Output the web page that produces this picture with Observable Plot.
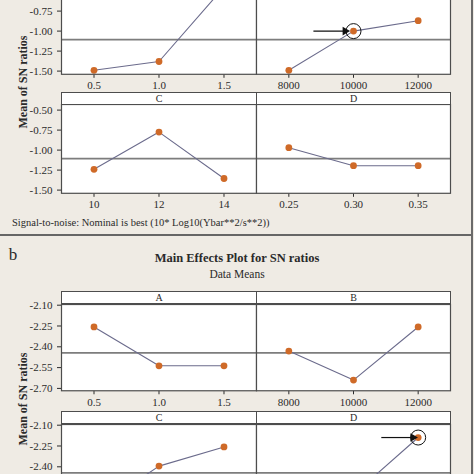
<!DOCTYPE html>
<html><head><meta charset="utf-8">
<script src="https://cdn.jsdelivr.net/npm/d3@7"></script>
<script src="https://cdn.jsdelivr.net/npm/@observablehq/plot@0.6"></script>
<style>
body{margin:0;background:#efebe4;}
#root{position:relative;width:474px;height:474px;overflow:hidden;background:#efebe4;font-family:"Liberation Serif","DejaVu Serif",serif;color:#2a2a2a;}
.strip{position:absolute;box-sizing:border-box;border:1.2px solid #4d4d4d;background:#fff;font-size:10px;text-align:center;}
.txt{position:absolute;white-space:nowrap;transform:translate(-50%,-50%);}
.ylab{position:absolute;white-space:nowrap;font-weight:bold;font-size:12px;transform:translate(-50%,-50%) rotate(-90deg);}
</style>
</head><body>
<div id="root"></div>
<script>
// ---- data ----
const levelsA = ["0.5", "1.0", "1.5"];
const levelsB = ["8000", "10000", "12000"];
const levelsC = ["10", "12", "14"];
const levelsD = ["0.25", "0.30", "0.35"];

// panel a (SN ratios, upper figure, cropped at the top)
const aA = [-1.49, -1.38, -0.45];
const aB = [-1.49, -1.00, -0.87];
const aC = [-1.24, -0.775, -1.355];
const aD = [-0.97, -1.195, -1.195];
const aTicksTop = [-1.50, -1.25, -1.00, -0.75];
const aTicks = [-1.50, -1.25, -1.00, -0.75, -0.50];

// panel b (cropped at the bottom)
const bA = [-2.257, -2.537, -2.537];
const bB = [-2.431, -2.640, -2.257];
const bC = [-2.710, -2.395, -2.257];
const bD = [-2.530, -2.600, -2.189];
const bTicks = [-2.70, -2.55, -2.40, -2.25, -2.10];
const bTicksBottom = [-2.40, -2.25, -2.10];

const caption = "Signal-to-noise: Nominal is best (10* Log10(Ybar**2/s**2))";
const titleB = "Main Effects Plot for SN ratios";
const subtitleB = "Data Means";
const yLabel = "Mean of SN ratios";

// annotations: highlighted level index per panel, arrow start/end (in level-index units)
const annotA_B = {idx: 1, from: 0.38, to: 0.87};
const annotB_D = {idx: 2, from: 1.43, to: 1.92};

// ---- drawing ----
const root = document.getElementById("root");
const frameColor = "#4d4d4d";

function panel({levels, values, mean, domain, ticks, col, plotTop, pxPerUnit, letter, annot, xAxis = true, strip = true}) {
  const plotH = (domain[1] - domain[0]) * pxPerUnit;
  const mT = 1, mB = 24;
  const left = col === 0;
  const data = values.map((v, i) => ({i, v}));
  const marks = [
    Plot.frame({fill: "white", stroke: "none"}),
    Plot.ruleY([mean], {stroke: "#7d7d7d", strokeWidth: 1.6}),
    Plot.line(data, {x: "i", y: "v", stroke: "#6b6b8c", strokeWidth: 1.1}),
    Plot.dot(data, {x: "i", y: "v", r: 3.4, fill: "#cf6a28", stroke: "none"})
  ];
  if (annot) {
    const p = [{i: annot.idx, v: values[annot.idx]}];
    const ar = [{x1: annot.from, x2: annot.to, y: values[annot.idx]}];
    marks.push(Plot.dot(p, {x: "i", y: "v", r: 7.5, fill: "none", stroke: "#111", strokeWidth: 1}));
    marks.push(Plot.link(ar, {x1: "x1", x2: "x2", y1: "y", y2: "y", stroke: "#111", strokeWidth: 1.2}));
    marks.push(Plot.dot(ar, {x: "x2", y: "y", symbol: "triangle", r: 3.2, rotate: 90, fill: "#111", stroke: "none"}));
  }
  marks.push(Plot.frame({stroke: frameColor, strokeWidth: 1.2}));
  const svg = Plot.plot({
    width: left ? 256 : 195,
    height: mT + plotH + mB,
    marginTop: mT, marginBottom: mB,
    marginLeft: left ? 61 : 0,
    marginRight: left ? 0 : 1,
    style: {background: "transparent", fontFamily: '"Liberation Serif","DejaVu Serif",serif', fontSize: "11px", color: "#2a2a2a", overflow: "visible"},
    x: xAxis ? {domain: [-0.5, 2.5], ticks: [0, 1, 2], tickFormat: i => levels[i], tickSize: 4, tickPadding: 3, label: null}
             : {domain: [-0.5, 2.5], axis: null},
    y: left ? {domain, ticks, tickFormat: d => d.toFixed(2), tickSize: 4, tickPadding: 5, label: null}
            : {domain, axis: null},
    marks
  });
  svg.style.position = "absolute";
  svg.style.left = (left ? 0 : 256) + "px";
  svg.style.top = (plotTop - mT) + "px";
  root.appendChild(svg);
  if (strip) {
    const s = document.createElement("div");
    s.className = "strip";
    s.textContent = letter;
    const sh = 13;
    s.style.left = (left ? 61 : 256) + "px";
    s.style.width = (left ? 196 : 195) + "px";
    s.style.top = (plotTop - sh + 0.6) + "px";
    s.style.height = sh + "px";
    s.style.lineHeight = (sh - 2) + "px";
    root.appendChild(s);
  }
}

// block a (top row's strips lie above the cropped picture)
const meanA = d3.mean(aA);
const domA = [-1.54, -0.43], pxA = 80;
const aRows = [-14.8, 104];
panel({levels: levelsA, values: aA, mean: meanA, domain: domA, ticks: aTicksTop, col: 0, plotTop: aRows[0], pxPerUnit: pxA, letter: "A", strip: false});
panel({levels: levelsB, values: aB, mean: meanA, domain: domA, ticks: aTicksTop, col: 1, plotTop: aRows[0], pxPerUnit: pxA, letter: "B", strip: false, annot: annotA_B});
panel({levels: levelsC, values: aC, mean: meanA, domain: domA, ticks: aTicks, col: 0, plotTop: aRows[1], pxPerUnit: pxA, letter: "C"});
panel({levels: levelsD, values: aD, mean: meanA, domain: domA, ticks: aTicks, col: 1, plotTop: aRows[1], pxPerUnit: pxA, letter: "D"});

// block b (bottom row's x axis lies below the cropped picture)
const meanB = d3.mean(bA);
const domB = [-2.717, -2.095], pxB = 138.7;
const bRows = [303.7, 423.7];
panel({levels: levelsA, values: bA, mean: meanB, domain: domB, ticks: bTicks, col: 0, plotTop: bRows[0], pxPerUnit: pxB, letter: "A"});
panel({levels: levelsB, values: bB, mean: meanB, domain: domB, ticks: bTicks, col: 1, plotTop: bRows[0], pxPerUnit: pxB, letter: "B"});
panel({levels: levelsC, values: bC, mean: meanB, domain: domB, ticks: bTicksBottom, col: 0, plotTop: bRows[1], pxPerUnit: pxB, letter: "C", xAxis: false});
panel({levels: levelsD, values: bD, mean: meanB, domain: domB, ticks: bTicksBottom, col: 1, plotTop: bRows[1], pxPerUnit: pxB, letter: "D", xAxis: false, annot: annotB_D});

// texts and decorations
function addText(text, x, y, css, cls = "txt") {
  const d = document.createElement("div");
  d.className = cls;
  d.textContent = text;
  d.style.left = x + "px";
  d.style.top = y + "px";
  Object.assign(d.style, css || {});
  root.appendChild(d);
  return d;
}
addText(yLabel, 23, 82, {}, "ylab");
addText(yLabel, 23, 399, {}, "ylab");
addText(caption, 12, 222, {fontSize: "10.5px", transform: "translate(0,-50%)"});
addText("b", 13, 255, {fontSize: "17px"});
addText(titleB, 237, 258, {fontSize: "12.5px", fontWeight: "bold"});
addText(subtitleB, 237, 274, {fontSize: "11.5px"});

const sep = document.createElement("div");
Object.assign(sep.style, {position: "absolute", left: "0px", top: "234px", width: "472px", height: "2px", background: "#666"});
root.appendChild(sep);
const rb = document.createElement("div");
Object.assign(rb.style, {position: "absolute", left: "471px", top: "0px", width: "2px", height: "474px", background: "#6a6a6a"});
root.appendChild(rb);
</script>
</body></html>
